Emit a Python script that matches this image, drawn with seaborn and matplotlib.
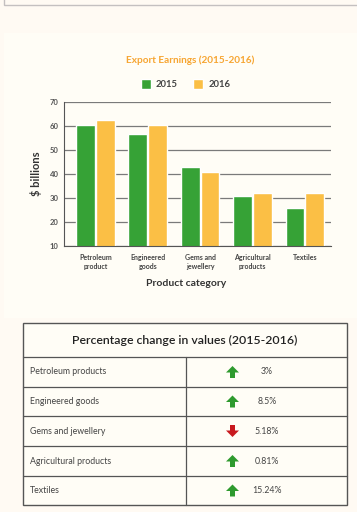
import pandas as pd
import matplotlib.pyplot as plt
import seaborn as sns
from matplotlib.patches import FancyArrow, Rectangle

# data
categories = ['Petroleum\nproduct', 'Engineered\ngoods', 'Gems and\njewellery',
              'Agricultural\nproducts', 'Textiles']
earn_2015 = [60.5, 56.5, 43, 31, 26]
earn_2016 = [62.5, 60.5, 41, 32, 32]
years = ['2015', '2016']

table_rows = ['Petroleum products', 'Engineered goods', 'Gems and jewellery',
              'Agricultural products', 'Textiles']
pct_labels = ['3%', '8.5%', '5.18%', '0.81%', '15.24%']
pct_up = [True, True, False, True, True]

GREEN = '#36a236'
ORANGE = '#fbbf45'
BG = '#fffaf3'
PANEL = '#fffdf6'

sns.set_style('white')
plt.rcParams['font.family'] = ['Lato', 'DejaVu Sans']

df = pd.DataFrame({
    'category': categories * 2,
    'value': earn_2015 + earn_2016,
    'year': [years[0]] * 5 + [years[1]] * 5,
})

W, H = 357, 512
fig = plt.figure(figsize=(W / 100, H / 100), dpi=100)
fig.patch.set_facecolor(BG)

# background layer in pixel coordinates
bg = fig.add_axes([0, 0, 1, 1])
bg.set_xlim(0, W)
bg.set_ylim(H, 0)
bg.axis('off')
bg.add_patch(Rectangle((4, -10), 360, 15, fill=False, ec='#c4c0c0', lw=1))
bg.add_patch(Rectangle((4, 33), 360, 285, fc=PANEL, ec='none'))

# bar chart
ax = fig.add_axes([64 / W, (H - 246) / H, 267 / W, 144 / H])
ax.set_facecolor(PANEL)
sns.barplot(data=df, x='category', y='value', hue='year', ax=ax,
            palette=[GREEN, ORANGE], width=0.76, gap=0.06, saturation=1)
ax.set_xlim(-0.6, 4.5)
ax.set_ylim(10, 70)
ax.set_yticks(range(10, 71, 10))
ax.yaxis.grid(True, color='#7a7a7a', lw=0.9)
ax.set_axisbelow(True)
for s in ['top', 'right']:
    ax.spines[s].set_visible(False)
ax.spines['left'].set_color('#555555')
ax.spines['bottom'].set_color('#555555')
ax.tick_params(axis='y', length=3, color='#555555', labelsize=5.5,
               labelcolor='#555555', pad=1)
ax.tick_params(axis='x', length=0, labelsize=5, labelcolor='#444444', pad=6)
for t in ax.get_yticklabels() + ax.get_xticklabels():
    t.set_fontweight('bold')
ax.set_xlabel('Product category', fontsize=7.5, color='#333333',
              fontweight='bold', labelpad=7, x=(186 - 64) / 267)
ax.set_ylabel('$ billions', fontsize=8, color='#333333', fontweight='bold',
              labelpad=5)
ax.legend(loc='lower center', bbox_to_anchor=(0.455, 1.03), ncol=2,
          frameon=False, handlelength=1.1, handleheight=1.1,
          columnspacing=1.6, handletextpad=0.5, prop={'weight': 'bold', 'size': 6.8})
for t in ax.get_legend().get_texts():
    t.set_color('#444444')
ax.set_title('Export Earnings (2015-2016)', fontsize=7.2, color='#f7a531',
             fontweight='bold', pad=28, x=(190 - 64) / 267)

# percentage change table
left, right, mid = 23, 347, 186
top, head_bot, bottom = 323, 357, 505
row_edges = [357, 387, 416, 446, 476, 505]
bg.add_patch(Rectangle((left, top), right - left, bottom - top, fc=PANEL,
                       ec='#555555', lw=1))
for y in row_edges[:-1]:
    bg.plot([left, right], [y, y], color='#555555', lw=0.9)
bg.plot([mid, mid], [head_bot, bottom], color='#555555', lw=0.9)
bg.text((left + right) / 2, (top + head_bot) / 2,
        'Percentage change in values (2015-2016)', ha='center', va='center',
        fontsize=8.8, color='#222222', fontweight='semibold')
for i, name in enumerate(table_rows):
    yc = (row_edges[i] + row_edges[i + 1]) / 2
    bg.text(30, yc, name, ha='left', va='center', fontsize=6.3, color='#444444')
    bg.text(267, yc, pct_labels[i], ha='center', va='center', fontsize=6.3,
            color='#444444')
    if pct_up[i]:
        arr = FancyArrow(232.5, yc + 6, 0, -12, width=5, head_width=13,
                         head_length=6.5, length_includes_head=True,
                         color='#2e9a2e', lw=0)
    else:
        arr = FancyArrow(232.5, yc - 6, 0, 12, width=5, head_width=13,
                         head_length=6.5, length_includes_head=True,
                         color='#c8191e', lw=0)
    bg.add_patch(arr)

fig.savefig('out.png', dpi=100, facecolor=BG)
